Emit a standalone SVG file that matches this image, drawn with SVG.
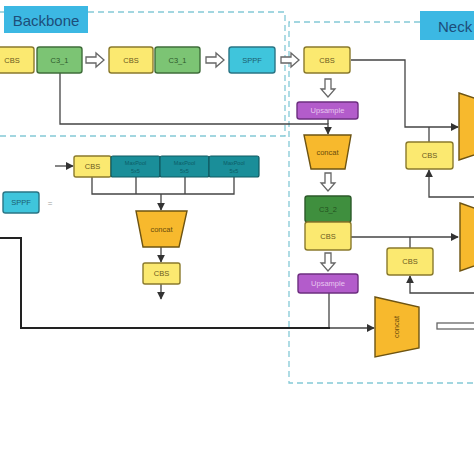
<svg xmlns="http://www.w3.org/2000/svg" width="474" height="474" viewBox="0 0 474 474">
<style>
text{font-family:"Liberation Sans",Arial,sans-serif;text-anchor:middle;dominant-baseline:central}
.dash{fill:none;stroke:#84c9d6;stroke-width:1.3;stroke-dasharray:6,4}
.cbs{fill:#fbe970;stroke:#8a7a2c;stroke-width:1.4}
.c31{fill:#7cc474;stroke:#3f6d3a;stroke-width:1.4}
.c32{fill:#3f8f3e;stroke:#2c5a2a;stroke-width:1.4}
.sppf{fill:#3fc5dc;stroke:#2a7585;stroke-width:1.4}
.ups{fill:#b35ccb;stroke:#6e2f80;stroke-width:1.4}
.mp{fill:#1a8e99;stroke:#0f5a62;stroke-width:1.2}
.cat{fill:#f7b92d;stroke:#6e5412;stroke-width:1.4}
.hol{fill:#fff;stroke:#666;stroke-width:1.3}
.ln{fill:none;stroke:#444;stroke-width:1.3}
.bold{fill:none;stroke:#222;stroke-width:2}
.t{font-size:7.5px;fill:#6b5a22}
.tg{font-size:7.5px;fill:#2f5a2c}
.tc{font-size:7.5px;fill:#1d5e70}
.tu{font-size:7.5px;fill:#e7c6ef}
.tm{font-size:5.5px;fill:#0c5c66}
.tk{font-size:7.5px;fill:#6a4c0c}
</style>
<defs>
<marker id="ah" viewBox="0 0 10 10" refX="9" refY="5" markerWidth="8" markerHeight="8" markerUnits="userSpaceOnUse" orient="auto"><path d="M0,0 L10,5 L0,10 Z" fill="#333"/></marker>
<path id="harrow" d="M0,-3 L10,-3 L10,-7 L18,0 L10,7 L10,3 L0,3 Z"/>
</defs>

<g id="frames">
<path class="dash" d="M0,12 H5 M88,12 H285 V136 H0"/>
<path class="dash" d="M420,22 H289 V383 H474"/>
</g>

<g id="backbone-label"><rect x="4" y="6" width="84" height="27" fill="#3cb8e3"/><text x="46" y="20" font-size="15" fill="#1d4e7a">Backbone</text></g>
<g id="neck-label"><rect x="420" y="11" width="60" height="29" fill="#3cb8e3"/><text x="438" y="26" font-size="15" fill="#1d4e7a" style="text-anchor:start">Neck</text></g>

<g id="connectors">
<path class="ln" d="M60,73 V124 H328 V134" marker-end="url(#ah)"/>
<path class="ln" d="M328,119 V124"/>
<path class="ln" d="M351,60 H405 V127 H458" marker-end="url(#ah)"/>
<path class="ln" d="M429,142 V127"/>
<path class="ln" d="M474,197 H429 V170" marker-end="url(#ah)"/>
<path class="ln" d="M351,237 H458" marker-end="url(#ah)"/>
<path class="ln" d="M410,248 V237"/>
<path class="ln" d="M474,293 H410 V276" marker-end="url(#ah)"/>
<path class="ln" d="M329,293 V328"/>
<path class="bold" d="M0,238 H21 V328 H330"/>
<path class="ln" d="M330,328 H374" marker-end="url(#ah)"/>
<path class="ln" d="M55,166 H73" marker-end="url(#ah)"/>
<path class="ln" d="M92,177 V194 H234 V177 M136,177 V194 M185,177 V194"/>
<path class="ln" d="M161,194 V210" marker-end="url(#ah)"/>
<path class="ln" d="M161,247 V262" marker-end="url(#ah)"/>
<path class="ln" d="M161,284 V299" marker-end="url(#ah)"/>
</g>

<g id="hollow-arrows">
<use href="#harrow" class="hol" transform="translate(86,60)"/>
<use href="#harrow" class="hol" transform="translate(206,60)"/>
<use href="#harrow" class="hol" transform="translate(281,60)"/>
<use href="#harrow" class="hol" transform="translate(328,79) rotate(90)"/>
<use href="#harrow" class="hol" transform="translate(328,173) rotate(90)"/>
<use href="#harrow" class="hol" transform="translate(328,253) rotate(90)"/>
<rect class="hol" x="437" y="323" width="40" height="6"/>
</g>

<g id="bb-cbs1"><rect class="cbs" x="-4" y="47" width="38" height="26" rx="2.5"/><text class="t" x="12" y="60">CBS</text></g>
<g id="bb-c31a"><rect class="c31" x="37" y="47" width="45" height="26" rx="2.5"/><text class="tg" x="59.5" y="60">C3_1</text></g>
<g id="bb-cbs2"><rect class="cbs" x="109" y="47" width="44" height="26" rx="2.5"/><text class="t" x="131" y="60">CBS</text></g>
<g id="bb-c31b"><rect class="c31" x="155" y="47" width="45" height="26" rx="2.5"/><text class="tg" x="177.5" y="60">C3_1</text></g>
<g id="bb-sppf"><rect class="sppf" x="229" y="47" width="46" height="26" rx="2.5"/><text class="tc" x="252" y="60">SPPF</text></g>

<g id="nk-cbs1"><rect class="cbs" x="304" y="47" width="46" height="26" rx="2.5"/><text class="t" x="327" y="60">CBS</text></g>
<g id="nk-ups1"><rect class="ups" x="297" y="102" width="61" height="17" rx="2.5"/><text class="tu" x="327.5" y="110.5">Upsample</text></g>
<g id="nk-concat1"><path class="cat" d="M304,135 H351 L345,169 H311 Z"/><text class="tk" x="327.5" y="152">concat</text></g>
<g id="nk-c32"><rect class="c32" x="305" y="196" width="46" height="26" rx="2.5"/><text x="328" y="209" font-size="7.5" fill="#24521f">C3_2</text></g>
<g id="nk-cbs2"><rect class="cbs" x="305" y="222" width="46" height="28" rx="2.5"/><text class="t" x="328" y="236">CBS</text></g>
<g id="nk-ups2"><rect class="ups" x="298" y="274" width="60" height="19" rx="2.5"/><text class="tu" x="328" y="283.5">Upsample</text></g>
<g id="nk-cbs3"><rect class="cbs" x="406" y="142" width="47" height="27" rx="2.5"/><text class="t" x="429.5" y="155.5">CBS</text></g>
<g id="nk-cbs4"><rect class="cbs" x="387" y="248" width="46" height="27" rx="2.5"/><text class="t" x="410" y="261.5">CBS</text></g>
<g id="nk-concat2"><path class="cat" d="M459,93 L480,100 V153 L459,160 Z"/></g>
<g id="nk-concat3"><path class="cat" d="M460,203 L480,210 V264 L460,271 Z"/></g>
<g id="nk-concat4"><path class="cat" d="M375,297 L419,307 V348 L375,357 Z"/><text class="tk" transform="translate(396,327) rotate(-90)">concat</text></g>

<g id="sppf-legend"><rect class="sppf" x="3" y="192" width="36" height="21" rx="2.5"/><text class="tc" x="21" y="202.5" font-size="6">SPPF</text><text x="50" y="203" font-size="8" fill="#999">=</text></g>
<g id="sp-cbs"><rect class="cbs" x="74" y="156" width="37" height="21" rx="2"/><text class="t" x="92.5" y="166.5" font-size="6.5">CBS</text></g>
<g id="sp-mp1"><rect class="mp" x="111" y="156" width="49" height="21" rx="2"/><text class="tm" x="135.5" y="162.5">MaxPool</text><text class="tm" x="135.5" y="170.5">5x5</text></g>
<g id="sp-mp2"><rect class="mp" x="160" y="156" width="49" height="21" rx="2"/><text class="tm" x="184.5" y="162.5">MaxPool</text><text class="tm" x="184.5" y="170.5">5x5</text></g>
<g id="sp-mp3"><rect class="mp" x="209" y="156" width="50" height="21" rx="2"/><text class="tm" x="234" y="162.5">MaxPool</text><text class="tm" x="234" y="170.5">5x5</text></g>
<g id="sp-concat"><path class="cat" d="M136,211 H187 L179,247 H143 Z"/><text class="tk" x="161.5" y="229" font-size="6.5">concat</text></g>
<g id="sp-cbs2"><rect class="cbs" x="143" y="263" width="37" height="21" rx="2"/><text class="t" x="161.5" y="273.5" font-size="6.5">CBS</text></g>
</svg>
